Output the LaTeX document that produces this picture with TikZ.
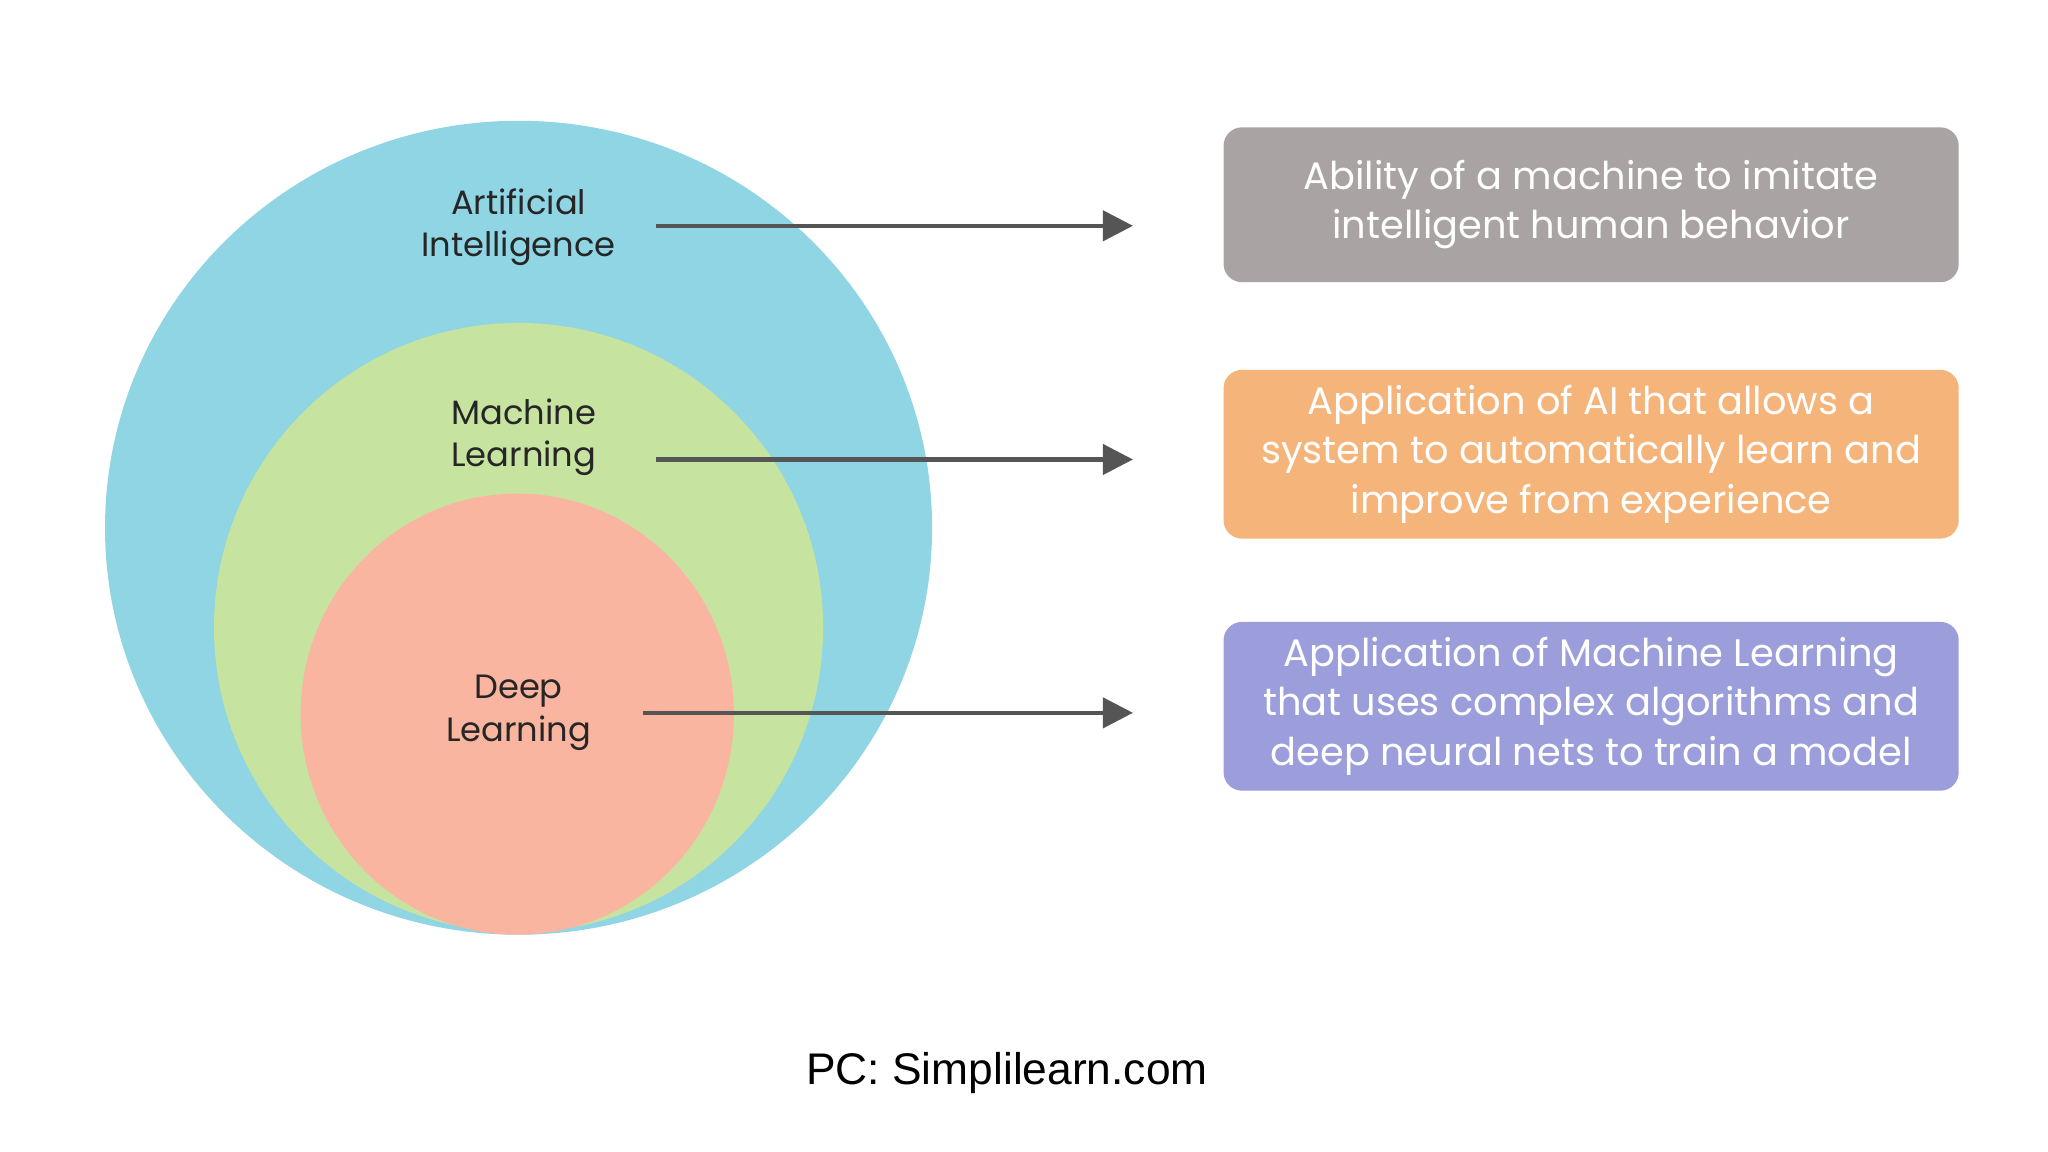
\documentclass[tikz,border=0pt]{standalone}
\usepackage{fontspec}
\setmainfont{Poppins}
\newfontfamily\arialf{Liberation Sans}
\definecolor{cblue}{HTML}{8FD5E3}
\definecolor{cgreen}{HTML}{C6E3A0}
\definecolor{cpink}{HTML}{F9B5A0}
\definecolor{cgray}{HTML}{A9A3A3}
\definecolor{corange}{HTML}{F5B47A}
\definecolor{cpurple}{HTML}{9C9EDB}
\definecolor{carrow}{HTML}{555555}
\usetikzlibrary{arrows.meta}
\begin{document}
\begin{tikzpicture}[x=0.01cm,y=-0.01cm,
  lab/.style={align=center,font=\fontsize{7.3pt}{9.2pt}\selectfont,text=black!85},
  desc/.style={rounded corners=4pt,minimum width=560*0.01cm,minimum height=118*0.01cm,align=center,text=white,font=\fontsize{8.3pt}{10.7pt}\selectfont},
  arr/.style={draw=carrow,line width=0.9pt,-{Triangle[length=6.5pt,width=6.5pt]}}]
\useasboundingbox (0,0) rectangle (1560,877);
\fill[white] (0,0) rectangle (1560,877);
\fill[cblue] (395,402) ellipse [x radius=315, y radius=310];
\fill[cgreen] (395,478) circle (232);
\fill[cpink] (394,544) ellipse [x radius=165, y radius=168];
\node[lab] (ai) at (395,173) {Artificial\\Intelligence};
\node[lab] (ml) at (399,333) {Machine\\Learning};
\node[lab] (dl) at (395,543) {Deep\\Learning};
\coordinate (a1) at (500,172); \coordinate (b1) at (863,172);
\coordinate (a2) at (500,350); \coordinate (b2) at (863,350);
\coordinate (a3) at (490,543); \coordinate (b3) at (863,543);
\draw[arr] (a1) -- (b1);
\draw[arr] (a2) -- (b2);
\draw[arr] (a3) -- (b3);
\node[desc,fill=cgray] (d1) at (1212,156) {Ability of a machine to imitate\\intelligent human behavior};
\node[desc,fill=corange] (d2) at (1212,346) {Application of AI that allows a\\system to automatically learn and\\improve from experience};
\node[desc,fill=cpurple] (d3) at (1212,538) {Application of Machine Learning\\that uses complex algorithms and\\deep neural nets to train a model};
\node[font=\arialf\fontsize{9.6pt}{11pt}\selectfont] (pc) at (767,817) {PC: Simplilearn.com};
\end{tikzpicture}
\end{document}
